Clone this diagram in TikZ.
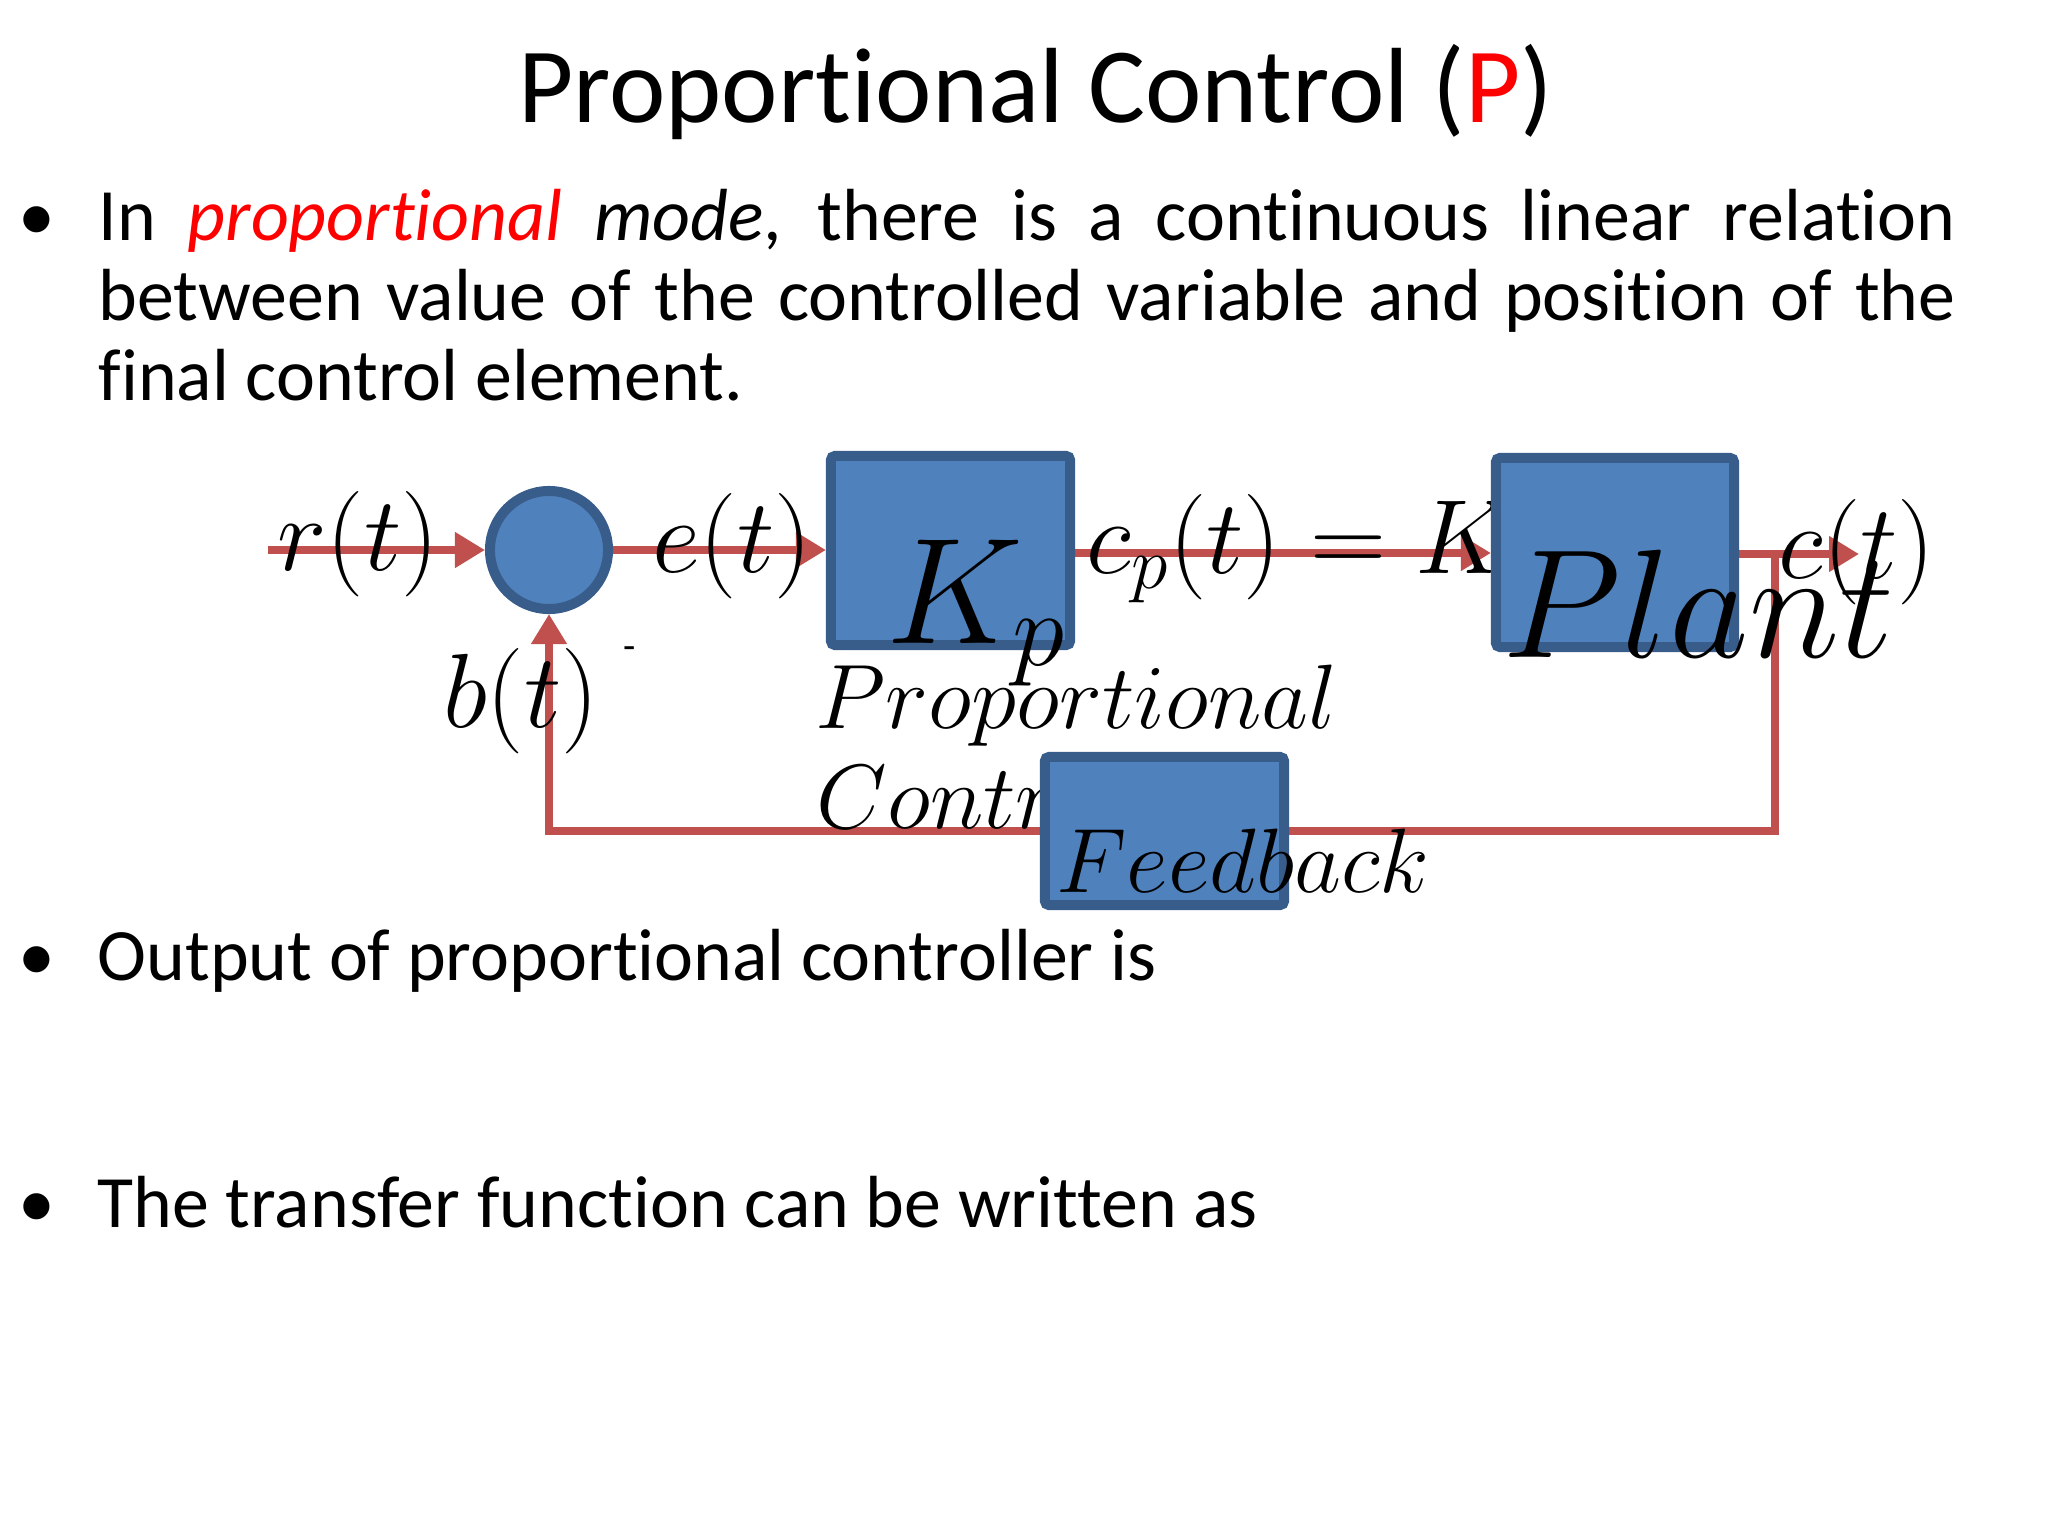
\documentclass[tikz,border=0pt]{standalone}
\usepackage{fix-cm}
\usepackage{fontspec}
\setmainfont{Carlito}[Ligatures=NoCommon]
\usetikzlibrary{arrows.meta}
\definecolor{boxfill}{HTML}{4F81BD}
\definecolor{boxline}{HTML}{385D8A}
\definecolor{wirered}{HTML}{C0504D}
\definecolor{hot}{HTML}{FF0000}
\pgfdeclarelayer{paper}
\pgfdeclarelayer{lines}
\pgfdeclarelayer{under}
\pgfsetlayers{paper,lines,under,main}
\begin{document}
\begin{tikzpicture}[x=0.01cm,y=-0.01cm,
  every node/.style={inner sep=0pt},
  blk/.style={draw=boxline,fill=boxfill,line width=0.1cm,inner sep=0pt},
  rblk/.style={blk,rounded corners=0.04cm},
  wire/.style={draw=wirered,line width=0.08cm},
  arr/.style={wire,-{Triangle[length=0.3cm,width=0.34cm]}},
  bodytxt/.style={font=\fontsize{21pt}{24pt}\selectfont,anchor=base west},
  mlbl/.style={font=\fontsize{30pt}{34pt}\selectfont,anchor=base},
]
\begin{pgfonlayer}{paper}
\useasboundingbox (0,0) rectangle (2048,1536);
\fill[white] (0,0) rectangle (2048,1536);
\end{pgfonlayer}

% title and text
\node[font=\fontsize{30.4pt}{36pt}\selectfont,anchor=base] (title) at (1036,122) {Proportional Control (\textcolor{hot}{P})};
\node[bodytxt] (d1) at (18,240) {•};
\node[bodytxt] (l1) at (98,240) {\makebox[18.56cm][s]{In \textcolor{hot}{\textit{proportional}} \textit{mode}, there is a continuous linear relation}};
\node[bodytxt] (l2) at (98,320) {\makebox[18.56cm][s]{between value of the controlled variable and position of the}};
\node[bodytxt] (l3) at (98,400) {final control element.};
\node[bodytxt] (d2) at (18,980) {•};
\node[bodytxt] (l4) at (97,980) {Output of proportional controller is};
\node[bodytxt] (d3) at (18,1227) {•};
\node[bodytxt] (l5) at (97,1227) {The transfer function can be written as};

% blocks
\node[blk,circle,minimum size=1.18cm] (sum) at (549,550) {};
\node[rblk,minimum width=2.39cm,minimum height=1.89cm] (kp) at (950.5,550.5) {};
\node[rblk,minimum width=2.38cm,minimum height=1.89cm] (plant) at (1615,552.5) {};
\node[rblk,minimum width=2.39cm,minimum height=1.48cm] (fb) at (1164.5,831) {};

\coordinate (rin) at (268,550);
\coordinate (cout) at (1859,554);
\coordinate (br) at (1775,554);

% connectors
\begin{pgfonlayer}{lines}
\draw[arr] (rin) -- (sum.west);
\draw[arr] (sum.east) -- (sum.east -| kp.west);
\draw[arr] (kp.east |- 0,553) -- (plant.west |- 0,553);
\draw[arr] (plant.east |- cout) -- (cout);
\draw[wire] (br) |- (fb.east);
\draw[arr] (fb.west) -| (sum.south);
\end{pgfonlayer}

% labels hidden partly by blocks
\begin{pgfonlayer}{under}
\node[font=\fontsize{30pt}{34pt}\selectfont,anchor=base west] (cp) at (1086,573) {$c_p(t)=K$};
\node[font=\fontsize{26pt}{30pt}\selectfont,anchor=base west] (pc1) at (815,728) {$Proportional$};
\node[font=\fontsize{26pt}{30pt}\selectfont,anchor=base west] (pc2) at (816,828) {$Control$};
\end{pgfonlayer}

% labels
\node[mlbl] (rt) at (358,570) {$r(t)$};
\node[mlbl] (et) at (732,572) {$e(t)$};
\node[mlbl] (bt) at (521,727) {$b(t)$};
\node[mlbl] (ct) at (1857,578) {$c(t)$};
\node[font=\fontsize{11.4pt}{13pt}\selectfont,anchor=base] (minus) at (630,659) {-};
\node[font=\fontsize{43pt}{50pt}\selectfont,anchor=base west] (kpt) at (886,643) {$K_p$};
\node[font=\fontsize{44pt}{52pt}\selectfont,anchor=base west] (plt) at (1502,657) {$Plant$};
\node[font=\fontsize{26pt}{30pt}\selectfont,anchor=base west] (fbt) at (1056,892) {$Feedback$};
\end{tikzpicture}
\end{document}
